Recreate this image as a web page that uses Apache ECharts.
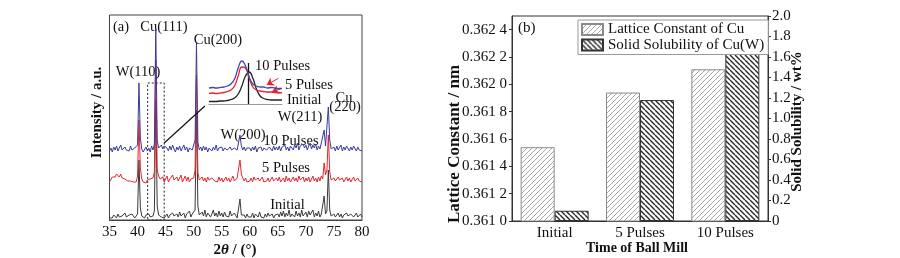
<!DOCTYPE html>
<html>
<head>
<meta charset="utf-8">
<script src="https://cdn.jsdelivr.net/npm/echarts@6/dist/echarts.min.js"></script>
<style>
  html, body { margin: 0; padding: 0; background: #fff; }
  #main { width: 900px; height: 258px; }
</style>
</head>
<body>
<div id="main"></div>
<script type="text/javascript">
// ---- data (a): XRD patterns, sampled every 0.25 deg from 35 to 80 ----
var angleStart = 35, angleStep = 0.25;
var initialXrd = [
  2,3,2,5,3,2,6,3,2,4,3,7,3,2,5,3,6,4,2,3,
  6,60,12,4,3,2,5,3,6,3,2,4,9,120,14,5,7,3,4,2,
  3,6,2,5,3,7,4,2,6,3,8,4,3,7,2,6,4,9,3,6,
  4,10,110,14,5,3,8,4,10,3,7,9,3,6,10,4,7,3,9,4,
  7,3,8,4,6,3,9,4,3,7,5,2,4,21,5,3,5,2,6,3,
  4,3,7,2,6,4,3,8,3,5,2,6,3,7,4,3,6,2,5,3,
  6,3,8,4,9,3,7,4,10,3,6,8,3,9,4,7,3,10,4,6,
  8,3,9,5,4,10,3,7,4,9,3,6,4,24,6,9,50,10,4,3,
  6,3,4,7,3,6,2,5,3,7,4,3,6,8,3,4,7,3,4,6,3
];
var pulses5Xrd = [
  38,40,43,45,43,46,44,43,46,42,44,41,40,39,38,39,37,38,39,38,
  44,100,52,41,38,39,37,40,38,41,39,42,48,160,50,44,41,39,43,38,
  40,44,38,41,39,45,40,38,43,39,41,45,38,40,44,39,43,38,41,40,
  42,50,145,48,40,38,43,39,42,38,43,40,38,42,44,39,41,38,43,39,
  42,38,40,43,39,42,38,40,44,39,41,42,44,60,46,42,39,42,38,40,
  39,42,38,43,40,38,42,39,40,43,38,40,39,42,38,40,43,39,38,42,
  39,43,38,40,42,38,44,39,42,38,40,43,39,42,38,44,40,39,43,38,
  42,39,43,38,40,44,39,42,38,43,39,44,41,57,45,50,85,48,40,38,
  42,39,38,43,40,39,42,38,40,43,39,42,38,40,43,39,38,42,39,40,38
];
var pulses10Xrd = [
  69,72,68,73,70,74,69,72,75,70,68,73,70,72,69,74,70,68,72,70,
  75,137,82,71,68,70,73,69,72,68,74,70,76,192,80,72,70,75,71,74,
  76,72,69,74,70,75,71,68,73,70,74,69,72,75,70,73,68,72,74,70,
  72,80,177,78,70,73,69,74,70,73,68,72,74,69,73,70,75,69,72,70,
  73,69,72,74,70,68,73,70,69,72,74,70,72,85,74,70,73,69,72,70,
  72,69,73,70,74,68,72,70,73,69,72,74,70,68,73,72,69,74,70,73,
  70,74,69,73,72,75,70,73,69,74,72,70,75,72,77,70,74,72,76,72,
  75,70,74,77,71,75,72,76,70,74,71,77,78,90,74,72,113,80,71,70,
  73,69,74,70,72,75,69,73,70,74,72,69,73,70,74,72,69,73,70,72,69
];

// inset: zoom on Cu(111)
var insetAngles = [42.90,42.95,43.00,43.05,43.10,43.15,43.20,43.25,43.30,43.35,43.40,
                   43.45,43.50,43.55,43.60,43.65,43.70,43.75,43.80,43.85,43.90];
var insetPulses10 = [16,16.5,16,16.5,17,18,20,25,36,43,38,27,20,18,17,17,16,16.5,16,15.5,15.5];
var insetPulses5  = [10.5,11,10.5,11,11.5,12.5,14,18,28,37,36,26,17,14,13,12.5,12,12,11.5,11.5,11];
var insetInitial  = [2.5,2.5,2.5,3,3,3.5,4.5,6,10,18,28,32,26,15,8,5.5,4.5,4,4,4,4];
var insetMarker = [43.44, 41];

// ---- data (b): bar chart ----
var millTimes = ['Initial', '5 Pulses', '10 Pulses'];
var latticeConstant = [0.36154, 0.36194, 0.36211];
var solidSolubility = [0.10, 1.18, 1.63];
var latticeTicks = [0.3610, 0.3612, 0.3614, 0.3616, 0.3618, 0.3620, 0.3622, 0.3624];

var SERIF = "'Liberation Serif', 'Times New Roman', serif";

function pairs(vals) {
    return vals.map(function (v, i) { return [angleStart + i * angleStep, v]; });
}
function insetPairs(vals) {
    return vals.map(function (v, i) { return [insetAngles[i], v]; });
}

// hatch fill for the bars
function hatch(color, lw, back) {
    var s = 5;
    var c = document.createElement('canvas');
    c.width = s; c.height = s;
    var g = c.getContext('2d');
    g.fillStyle = '#fff';
    g.fillRect(0, 0, s, s);
    g.strokeStyle = color;
    g.lineWidth = lw;
    g.beginPath();
    for (var k = -s; k <= s; k += s) {
        if (back) { g.moveTo(k, 0); g.lineTo(k + s, s); }
        else { g.moveTo(k, s); g.lineTo(k + s, 0); }
    }
    g.stroke();
    return { image: c, repeat: 'repeat' };
}

function txt(x, y, text, size, extra) {
    var el = {
        type: 'text', x: x, y: y, silent: true,
        style: {
            text: text, fill: '#111', fontSize: size || 14.5, fontFamily: SERIF,
            align: 'left', verticalAlign: 'middle', textAlign: 'left', textVerticalAlign: 'middle'
        }
    };
    if (extra) {
        for (var k in extra) {
            if (k === 'style') { for (var j in extra.style) el.style[j] = extra.style[j]; }
            else el[k] = extra[k];
        }
    }
    return el;
}
function ctr(x, y, text, size, extra) {
    var el = txt(x, y, text, size, extra);
    el.style.align = 'center'; el.style.textAlign = 'center';
    return el;
}

var myChart = echarts.init(document.getElementById('main'), null, { renderer: 'canvas' });

var axisBlack = { lineStyle: { color: '#333', width: 1 } };

var option = {
    animation: false,
    backgroundColor: '#fff',
    grid: [
        { left: 109.5, right: 538, top: 15, bottom: 38, show: true, borderColor: '#444', borderWidth: 1, outerBoundsMode: 'none', containLabel: false },
        { left: 209, top: 58, width: 73, height: 46, outerBoundsMode: 'none', containLabel: false },
        { left: 512, right: 132, top: 16, bottom: 37, show: true, borderColor: '#333', borderWidth: 1, outerBoundsMode: 'none', containLabel: false }
    ],
    xAxis: [
        {
            gridIndex: 0, type: 'value', min: 35, max: 80, interval: 5,
            axisLine: { show: true, lineStyle: { color: '#444' } },
            axisTick: { show: false }, splitLine: { show: false },
            axisLabel: { color: '#111', fontSize: 15, fontFamily: SERIF, margin: 5 }
        },
        {
            gridIndex: 1, type: 'value', min: 42.9, max: 43.9,
            axisLine: { show: true, lineStyle: { color: '#999', width: 1 } },
            axisTick: { show: false }, axisLabel: { show: false }, splitLine: { show: false }
        },
        {
            gridIndex: 2, type: 'category', data: millTimes,
            axisLine: axisBlack, axisTick: { show: false }, splitLine: { show: false },
            axisLabel: { color: '#111', fontSize: 15, fontFamily: SERIF, margin: 5 }
        }
    ],
    yAxis: [
        {
            gridIndex: 0, type: 'value', min: 0, max: 205,
            axisLine: { show: false }, axisTick: { show: false },
            axisLabel: { show: false }, splitLine: { show: false }
        },
        {
            gridIndex: 1, type: 'value', min: 0, max: 46,
            axisLine: { show: false }, axisTick: { show: false },
            axisLabel: { show: false }, splitLine: { show: false }
        },
        {
            gridIndex: 2, type: 'value', position: 'left', min: 0.3610, max: 0.3625,
            axisLine: { show: true, lineStyle: { color: '#333' } },
            axisTick: { show: true, length: 3, inside: false, customValues: latticeTicks, lineStyle: { color: '#333' } },
            splitLine: { show: false },
            axisLabel: {
                customValues: latticeTicks,
                color: '#111', fontSize: 15, fontFamily: SERIF, margin: 5,
                formatter: function (v) { var s = v.toFixed(4); return s.slice(0, 5) + ' ' + s.slice(5); }
            }
        },
        {
            gridIndex: 2, type: 'value', position: 'right', min: 0, max: 2, interval: 0.2,
            axisLine: { show: true, lineStyle: { color: '#333' } },
            axisTick: { show: true, length: 3, inside: false, lineStyle: { color: '#333' } },
            splitLine: { show: false },
            axisLabel: {
                color: '#111', fontSize: 15, fontFamily: SERIF, margin: 4,
                formatter: function (v) { return v === 0 ? '0' : v.toFixed(1); }
            }
        }
    ],
    legend: {
        data: ['Lattice Constant of Cu', 'Solid Solubility of Cu(W)'],
        orient: 'vertical', left: 578, top: 20,
        padding: [2, 4, 2, 3], itemGap: 0.5,
        itemWidth: 21, itemHeight: 11, icon: 'rect',
        backgroundColor: '#fff', borderColor: '#999', borderWidth: 1,
        textStyle: { color: '#111', fontSize: 15, fontFamily: SERIF, lineHeight: 14 },
        selectedMode: false
    },
    series: [
        {
            name: 'Initial', type: 'line', xAxisIndex: 0, yAxisIndex: 0,
            data: pairs(initialXrd), showSymbol: false, symbol: 'none',
            lineStyle: { color: '#3a3a3a', width: 1 }, z: 2, clip: false,
            markArea: {
                silent: true,
                itemStyle: { color: 'rgba(0,0,0,0)', borderColor: '#222', borderWidth: 1, borderType: [2, 2] },
                data: [[{ coord: [41.8, 0] }, { coord: [44.75, 137] }]]
            },
            markLine: {
                silent: true, symbol: 'none', label: { show: false },
                lineStyle: { color: '#111', width: 1.2, type: 'solid' },
                data: [[{ coord: [44.75, 77] }, { coord: [52.0, 114] }]]
            }
        },
        {
            name: '5 Pulses', type: 'line', xAxisIndex: 0, yAxisIndex: 0,
            data: pairs(pulses5Xrd), showSymbol: false, symbol: 'none',
            lineStyle: { color: '#e3262b', width: 1 }, z: 3
        },
        {
            name: '10 Pulses', type: 'line', xAxisIndex: 0, yAxisIndex: 0,
            data: pairs(pulses10Xrd), showSymbol: false, symbol: 'none',
            lineStyle: { color: '#3c3a9c', width: 1 }, z: 4
        },
        {
            name: 'inset Initial', type: 'line', xAxisIndex: 1, yAxisIndex: 1,
            data: insetPairs(insetInitial), smooth: true, showSymbol: false, symbol: 'none',
            lineStyle: { color: '#222', width: 1.3 }, z: 5, clip: false,
            markLine: {
                silent: true, label: { show: false }, symbolSize: 7,
                data: [
                    [{ coord: [insetMarker[0], 0], symbol: 'none', lineStyle: { color: '#111', width: 1.3, type: 'solid' } },
                     { coord: [insetMarker[0], insetMarker[1]], symbol: 'none' }],
                    [{ coord: [43.85, 25.7], symbol: 'none', lineStyle: { color: '#e3262b', width: 1, type: 'solid' } },
                     { coord: [43.69, 19], symbol: 'arrow' }],
                    [{ coord: [43.9, 15.7], symbol: 'none', lineStyle: { color: '#e3262b', width: 1, type: 'solid' } },
                     { coord: [43.76, 12], symbol: 'arrow' }],
                    [{ coord: [43.92, 4.5], symbol: 'none', lineStyle: { color: '#e3262b', width: 1, type: 'solid' } },
                     { coord: [43.76, 4.5], symbol: 'arrow' }]
                ]
            }
        },
        {
            name: 'inset 5 Pulses', type: 'line', xAxisIndex: 1, yAxisIndex: 1,
            data: insetPairs(insetPulses5), smooth: true, showSymbol: false, symbol: 'none',
            lineStyle: { color: '#e3262b', width: 1.3 }, z: 5
        },
        {
            name: 'inset 10 Pulses', type: 'line', xAxisIndex: 1, yAxisIndex: 1,
            data: insetPairs(insetPulses10), smooth: true, showSymbol: false, symbol: 'none',
            lineStyle: { color: '#4a48ad', width: 1.3 }, z: 5
        },
        {
            name: 'Lattice Constant of Cu', type: 'bar', xAxisIndex: 2, yAxisIndex: 2,
            data: latticeConstant, barWidth: 34, barGap: '0%',
            itemStyle: { color: hatch('#a8a8a8', 1, false), borderColor: '#8a8a8a', borderWidth: 1 }
        },
        {
            name: 'Solid Solubility of Cu(W)', type: 'bar', xAxisIndex: 2, yAxisIndex: 3,
            data: solidSolubility, barWidth: 34, barGap: '0%',
            itemStyle: { color: hatch('#2a2a2a', 1.4, true), borderColor: '#333', borderWidth: 1 }
        }
    ],
    graphic: [
        // panel (a)
        txt(113, 27, '(a)', 14.5),
        ctr(164, 27, 'Cu(111)', 14.5),
        ctr(218, 40.5, 'Cu(200)', 14.5),
        ctr(138, 72.5, 'W(110)', 14.5),
        txt(255, 66.5, '10 Pulses', 14.5),
        txt(285, 85, '5 Pulses', 14.5),
        txt(287, 100, 'Initial', 14.5),
        ctr(344, 98, 'Cu', 14.5),
        ctr(345, 107.5, '(220)', 14.5),
        ctr(300, 117.5, 'W(211)', 14.5),
        ctr(243, 135, 'W(200)', 14.5),
        ctr(291, 141.5, '10 Pulses', 14.5),
        ctr(286, 168, '5 Pulses', 14.5),
        ctr(287.5, 205, 'Initial', 14.5),
        ctr(97, 112.5, 'Intensity / a.u.', 15, { rotation: Math.PI / 2, style: { fontWeight: 'bold' } }),
        {
            type: 'text', x: 235, y: 250, silent: true,
            style: {
                text: '{b|2}{t|θ}{b| / (°)}', align: 'center', verticalAlign: 'middle',
                textAlign: 'center', textVerticalAlign: 'middle',
                rich: {
                    b: { fontSize: 15, fontWeight: 'bold', fontFamily: SERIF, fill: '#111', color: '#111' },
                    t: { fontSize: 15, fontWeight: 'bold', fontStyle: 'italic', fontFamily: SERIF, fill: '#111', color: '#111' }
                }
            }
        },
        // panel (b)
        txt(518, 28, '(b)', 15),
        ctr(455, 144, 'Lattice Constant / nm', 17, { rotation: Math.PI / 2, style: { fontWeight: 'bold' } }),
        ctr(797, 121.5, 'Solid Solubility / wt%', 15, { rotation: Math.PI / 2, style: { fontWeight: 'bold' } }),
        ctr(637, 248, 'Time of Ball Mill', 14, { style: { fontWeight: 'bold' } })
    ]
};

myChart.setOption(option);
</script>
</body>
</html>
